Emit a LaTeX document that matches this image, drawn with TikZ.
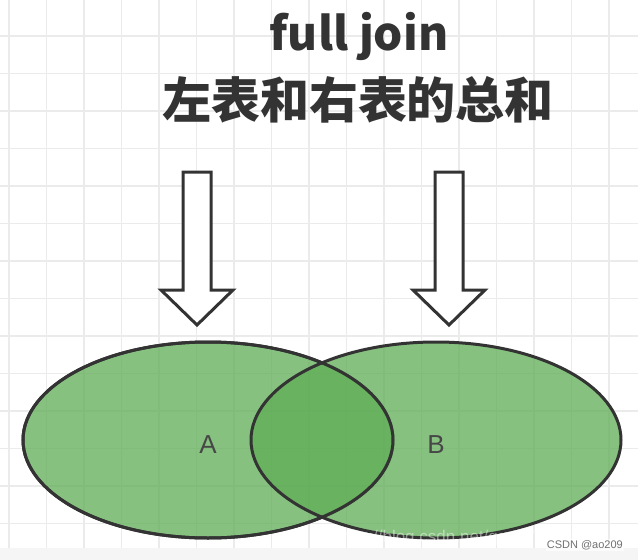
\documentclass[tikz,border=0pt]{standalone}
\usepackage{fontspec}
\setmainfont{Liberation Sans}
\newfontfamily\cjk{Noto Sans CJK SC}
\definecolor{gridc}{HTML}{EBEBEB}
\definecolor{vennfill}{HTML}{5FAD56}
\definecolor{edge}{HTML}{333333}
\tikzset{
  venn/.style={draw=edge,line width=3pt,fill=vennfill,fill opacity=0.75,draw opacity=1},
  blockarrow/.style={draw=edge,line width=3pt,fill=white,line join=miter},
  lbl/.style={text=edge!90,font=\fontsize{26}{30}\selectfont}
}
\begin{document}
\begin{tikzpicture}[x=1pt,y=-1pt]
\useasboundingbox (0,0) rectangle (638,560);
\fill[white] (0,0) rectangle (638,560);
\foreach \i in {0,...,17} {
  \draw[gridc,line width=1.5pt] ({9+37.5*\i},0) -- ({9+37.5*\i},548);
}
\foreach \j in {0,...,14} {
  \draw[gridc,line width=1.5pt] (0,{36+37.5*\j-37.5}) -- (638,{36+37.5*\j-37.5});
}
\fill[gray!8] (0,548) rectangle (638,560);
\node[font=\cjk\bfseries\fontsize{46}{50}\selectfont,text=edge] (t1) at (359,36) {full join};
\node[font=\cjk\bfseries\fontsize{49}{54}\selectfont,text=edge] (t2) at (358,100) {左表和右表的总和};
\foreach \cx/\nm in {197/la,449/ra} {
  \draw[blockarrow] ({\cx-14},172) -- ({\cx+14},172) -- ({\cx+14},290) -- ({\cx+36},290)
    -- (\cx,325) -- ({\cx-36},290) -- ({\cx-14},290) -- cycle;
  \coordinate (\nm) at (\cx,325);
}
\path[venn] (208,440) ellipse [x radius=185,y radius=98];
\path[venn] (436,440) ellipse [x radius=185,y radius=98];
\draw[edge,line width=3pt] (208,440) ellipse [x radius=185,y radius=98];
\node[lbl] (A) at (208,445) {A};
\node[lbl] (B) at (436,445) {B};
\node[text=white,opacity=0.45,font=\fontsize{17}{20}\selectfont,anchor=west] (w) at (328,538) {https://blog.csdn.net/qq\_27184497};
\node[text=edge!70,font=\fontsize{11}{12}\selectfont,anchor=east,fill=white,fill opacity=0.6,text opacity=1,inner sep=1pt] (w2) at (624,545) {CSDN @ao209};
\end{tikzpicture}
\end{document}
